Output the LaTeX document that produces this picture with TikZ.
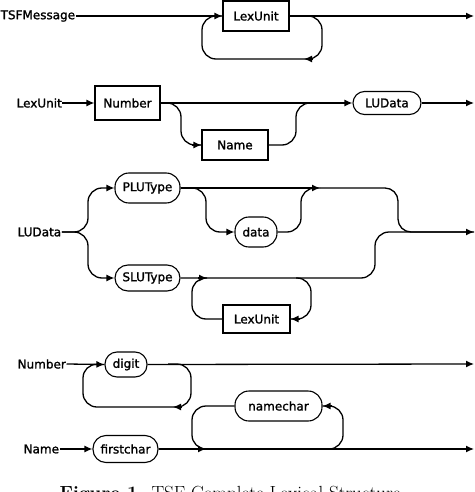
\documentclass[tikz,border=0pt]{standalone}
\usepackage{fontspec}
\newfontfamily\dvs[FakeBold=1.5]{DejaVu Sans}
\usetikzlibrary{arrows.meta}
\tikzset{
  lbl/.style={anchor=west, inner sep=0pt, font=\dvs\fontsize{12}{14}\selectfont},
  termbox/.style={draw, line width=1.1pt, rectangle, inner sep=0pt, font=\dvs\fontsize{12}{14}\selectfont},
  ntbox/.style={draw, line width=1.1pt, rectangle, rounded corners=12pt, inner sep=0pt, font=\dvs\fontsize{12}{14}\selectfont},
  arr/.style={-{Latex[length=8pt,width=7pt]}},
  rc/.style={rounded corners=14pt},
}
\begin{document}
\begin{tikzpicture}[x=1pt,y=-1pt, line width=1.3pt]
\useasboundingbox (0,0) rectangle (474,492);
% Row 1
\node[lbl] (t1) at (0,16) {TSFMessage};
\node[termbox, minimum width=66pt, minimum height=30pt] (lu1) at (256,16) {LexUnit};
\coordinate (e1) at (474,16);
\coordinate (a1) at (296,16);
\coordinate (a2) at (304,59);
\coordinate (a2s) at (313,59);
\draw[arr] (t1.east) -- (lu1.west);
\draw[arr] (lu1.east) -- (e1);
\draw[rc] (a1) -| (322,59) -| (202,16) -- (lu1.west);
\draw[arr] (a2s) -- (a2);

% Row 2
\node[lbl] (t2) at (16,103) {LexUnit};
\node[termbox, minimum width=65pt, minimum height=34pt] (num) at (127.5,103) {Number};
\node[ntbox, minimum width=68pt, minimum height=23pt, rounded corners=11.5pt] (lud) at (387,103) {LUData};
\node[termbox, minimum width=66pt, minimum height=30pt] (name) at (235,145) {Name};
\coordinate (e2) at (474,103);
\coordinate (b1) at (314,103);
\coordinate (b2) at (192,145);
\draw[arr] (t2.east) -- (num.west);
\draw[arr] (num.east) -- (lud.west);
\draw[arr] (lud.east) -- (e2);
\draw[rc] (num.east) -| (181,145) -- (name.west);
\draw[arr] (b2) -- (name.west);
\draw[rc] (name.east) -| (296,103) -- (b1);

% Row 3
\node[lbl] (t3) at (17,232) {LUData};
\node[ntbox, minimum width=65pt, minimum height=30pt, rounded corners=14pt] (plu) at (147.5,188) {PLUType};
\node[ntbox, minimum width=65pt, minimum height=26pt, rounded corners=13pt] (slu) at (147.5,278) {SLUType};
\node[ntbox, minimum width=42pt, minimum height=30pt, rounded corners=14pt] (data) at (256,232) {data};
\node[termbox, minimum width=67pt, minimum height=28pt] (lu2) at (256.5,319) {LexUnit};
\coordinate (j1) at (320,188);
\coordinate (e3) at (474,232);
\coordinate (j2) at (207,278);
\coordinate (j2s) at (198,278);
\coordinate (j4) at (296,278);
\coordinate (j5) at (300,319);
\draw[arr, rc] (t3.east) -| (88,188) -- (plu.west);
\draw[arr, rc] (t3.east) -| (88,278) -- (slu.west);
\draw[arr] (plu.east) -- (j1);
\draw[arr, rounded corners=13pt] (j1) -| (398,232) -- (e3);
\draw[arr, rc] (plu.east) -| (206,232) -- (data.west);
\draw[rc] (data.east) -| (301,188) -- (j1);
\draw[rc] (slu.east) -| (375,232) -- (e3);
\draw[rc] (j4) -| (311,319) -- (lu2.east);
\draw[arr] (j5) -- (lu2.east);
\draw[rc] (lu2.west) -| (192,278) -- (j2);
\draw[arr] (j2s) -- (j2);

% Row 4
\node[lbl] (t4) at (17,364) {Number};
\node[ntbox, minimum width=42pt, minimum height=25pt] (dig) at (126,364.5) {digit};
\coordinate (e4) at (474,364);
\coordinate (k1) at (168,364);
\coordinate (k2) at (173,407);
\coordinate (k2s) at (182,407);
\draw[arr] (t4.east) -- (dig.west);
\draw[arr] (dig.east) -- (e4);
\draw[rc] (k1) -| (191,407) -| (83,364) -- (dig.west);
\draw[arr] (k2s) -- (k2);

% Row 5
\node[lbl] (t5) at (23,449) {Name};
\node[ntbox, minimum width=65pt, minimum height=27pt, rounded corners=13pt] (fc) at (125.5,449) {firstchar};
\node[ntbox, minimum width=87pt, minimum height=30pt, rounded corners=14pt] (nc) at (278.5,406) {namechar};
\coordinate (e5) at (474,449);
\coordinate (m1) at (325,449);
\coordinate (m2) at (206,449);
\coordinate (m2s) at (197,449);
\coordinate (m3) at (332,406);
\draw[arr] (t5.east) -- (fc.west);
\draw[arr] (fc.east) -- (e5);
\draw[rc] (m1) -| (343,406) -- (nc.east);
\draw[arr] (m3) -- (nc.east);
\draw[rc] (nc.west) -| (192,449) -- (m2);
\draw[arr] (m2s) -- (m2);

% Caption (cut off by the page edge)
\node[anchor=north west, inner sep=0pt, font=\fontsize{19}{23}\selectfont] (cap) at (59,486) {\textbf{Figure 1.} TSF Complete Lexical Structure};
\end{tikzpicture}
\end{document}
